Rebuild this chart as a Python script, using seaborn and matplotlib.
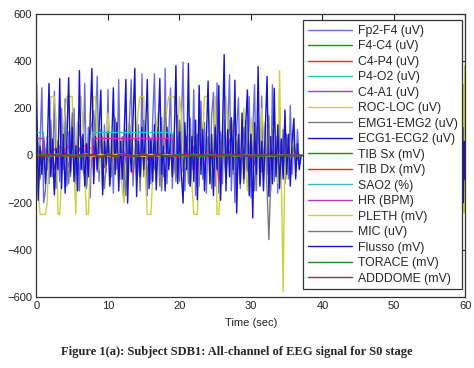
import numpy as np
import pandas as pd
import matplotlib
matplotlib.use("Agg")
import matplotlib.pyplot as plt
import seaborn as sns

# ---------------- data ----------------
labels = ["Fp2-F4 (uV)", "F4-C4 (uV)", "C4-P4 (uV)", "P4-O2 (uV)", "C4-A1 (uV)",
          "ROC-LOC (uV)", "EMG1-EMG2 (uV)", "ECG1-ECG2 (uV)", "TIB Sx (mV)",
          "TIB Dx (mV)", "SAO2 (%)", "HR (BPM)", "PLETH (mV)", "MIC (uV)",
          "Flusso (mV)", "TORACE (mV)", "ADDDOME (mV)"]

# sample times (s) of the visible part: 0..37 s every 0.25 s, plus right edge 59.4..60 s
t_main = np.arange(0, 37.001, 0.25)
t_half = np.arange(0, 37.001, 0.5)
t_sec = np.arange(0, 37.001, 1.0)
t_edge = np.arange(59.4, 60.001, 0.1)

fp2_f4 = [120, -160, 60, 287, -200, -150, 80, -120, 150, -90, 272, -140, 60, -110, 200, -60,
          240, -130, 100, -90, 50, 200, -120, 140, -150, 80, -60, 305, -140, 120, -180, 60,
          -90, 140, 336, -110, 80, -150, 130, -70, 280, -120, 90, -160, 140, -60, 322, -100,
          60, -180, 110, -90, 150, 322, -130, 70, -110, 130, -150, 347, -90, 120, -170, 80,
          -120, 150, 347, -110, 60, -130, 160, -90, 369, -120, 80, 287, -140, 100, -90, 170,
          -110, 120, 396, -150, 80, -120, 160, -60, 280, -170, 90, -130, 230, -100, 140, -160,
          60, -110, 170, 268, -130, 308, -160, 100, -120, 150, -90, 120, 342, -150, 90, -200,
          120, 244, -140, 80, -120, 150, -60, 250, -180, 110, 300, -150, 90, -120, 252, -100,
          140, -80, 170, -150, 300, -110, 80, -160, 150, -90, 110, -120, 70, -100, 212, -80,
          90, -60, 110, -40, 0]
fp2_f4_edge = [-100, 250, -240, 200, -150, 220, -60]

ecg = [308, -190, 40, -80, 60, -120, 20, 305, -90, 70, -167, 30, -60, 326, -140, 90,
       -160, 60, 330, -70, 120, -110, 40, -150, 360, -60, 90, -130, 50, -90, 150, 369,
       -120, 80, -60, 110, 277, -167, 60, -40, 100, -130, 30, 287, -80, 140, -150, 60,
       -100, 80, 322, -202, 90, -70, 150, 369, -174, 60, -90, 120, -60, 100, 322, -140,
       70, -110, 130, -146, 90, 326, -80, 40, -150, 120, -60, 90, -90, 60, 381, -120,
       100, -70, -202, 140, -60, 390, -130, 80, -110, 150, -188, 297, -80, 110, -150, 60,
       315, -120, 90, -170, 120, -60, 297, -190, 80, 428, -150, 110, -90, 160, -60, 319,
       -244, 90, -120, 180, -100, 120, 278, -170, 90, -265, 140, -80, 377, -130, 60, -150,
       110, 335, -174, 80, -120, 285, -90, 130, -140, 70, -100, 193, -80, 90, -130, 60,
       157, -100, 50, -60, 0]
ecg_edge = [30, -150, 120, -200, 60, -100, 40]

roc_loc = [100, -150, -250, -250, -250, -250, -200, 50, 250, 250, 250, 150, -250, -250, -100, 100,
           180, 250, 250, 250, 250, -50, -250, 100, 250, 250, 120, -100, -250, -250, -60, 80,
           250, 250, 40, -60, 0, 80, -40, 20, 180, 60, -80, 30, -40, 100, 40, -60,
           -150, -200, -60, 50, 130, 40, -30, 60, 100, 200, 250, 250, 250, -100, -250, -250,
           -250, -100, 50, 120, 180, 60, -40, 20, 120, 200, 250, 250, 250, 250, 150, 80,
           250, 180, 30, -50, 20, 90, -30, -120, -250, -250, -250, 0, 150, 80, 250, 250,
           250, 100, -80, 20, 250, -250, -250, -100, 50, 250, 250, 100, -40, 60, 150, -30,
           80, 20, -60, 100, 200, -50, -150, 40, 160, 60, -20, 120, 40, -80, 200, 100,
           -20, 130, 60, -40, 90, 150, 40, -120, 360, -100, -576, 30, -100, 60, -30, 80,
           20, -40, 40, 0, 0]
roc_loc_edge = [-240, 390, -100, 300, -244, 380, 0]

emg = [150, -100, 80, -60, 120, -150, 60, -40, 100, -120, 180, -80, 130, -60, -130, 90,
       190, -70, 110, -140, 60, -90, 160, -40, 80, -170, 140, -60, 70, -120, 150, -90,
       60, -60, 120, -150, 200, -40, 90, -110, 150, -70, 60, -130, 110, -60, 170, -90,
       80, -140, 130, -50, 90, -100, 150, -80, 60, -120, 120, -60, 90, -150, 160, -70,
       60, -357, 110, -80, 70, -60, 90, -40, 40, -20, 0]

c4_a1 = [30, -40, 50, -20, 40, -60, 60, -30, 20, -50, 70, -40, 30, -20, 50, -70,
         40, -30, 60, -50, 30, -40, 20, -60, 50, -30, 40, -80, 60, -50, 30, -20,
         40, -60, 50, -30, 70, -40, 30, -90, 60, -40, 50, -30, 40, -130, 60, -50,
         30, -40, 50, -110, 40, -60, 70, -30, 40, -50, 30, -70, 50, -40, 30, -60,
         40, -30, 20, -50, 30, -20, 40, -30, 20, -10, 0]
c4_p4 = [0, 20, 10, 40, 25, 50, 30, 45, 20, 10, 15, 5, 10, 0, 5, -5, 0, 10, 5, 0,
         5, -5, 0, 5, -5, 0, 5, 0, -5, 0, 5, 0, -5, 5, 0, 0, 0, 0]
pleth = [2, -4, 5, -2, 4, -5, 2, 6, -4, 5, -2, 4, 6, -5, 2, -4, 5, -2, 4, 0,
         -5, 2, 4, -2, 5, -4, 2, 0, -2, 4, -4, 2, 0, -2, 2, 0, 0, 0]
small_a = [0, 5, -5, 8, -3, 4, -6, 5, 0, -4, 6, -5, 3, 0, -3, 5, -4, 2, 0, -2,
           4, -3, 5, -5, 3, 0, -2, 4, -3, 2, 0, -4, 3, -2, 1, 0, 0, 0]
small_b = [0, -4, 6, -3, 5, -5, 2, 0, 4, -6, 3, -2, 5, -4, 0, 3, -3, 4, -2, 0,
           -3, 5, -4, 2, 0, -3, 4, -2, 3, 0, -4, 2, 0, 3, -1, 0, 0, 0]

sao2_t = [0, 0.9, 0.9, 7.7, 7.7, 18.8, 18.8, 37]
sao2_v = [98, 98, 0, 0, 98, 98, 0, 0]
hr_t = [0, 0.9, 0.9, 7.8, 7.8, 18.9, 18.9, 37]
hr_v = [75, 75, 0, 0, 75, 75, 0, 0]

# ---------------- style ----------------
sns.set_theme(style="white")
plt.rcParams["font.family"] = ["Liberation Sans", "DejaVu Sans"]

B = "#6b6be8"; BD = "#1414d2"; G = "#1e8a1e"; R = "#e8282c"; C = "#30c0c0"
M = "#c030c0"; Y = "#cfcf3c"; K = "#7a7a7a"

fig = plt.figure(figsize=(4.74, 3.68), dpi=100)
ax = fig.add_axes([0.077, 0.193, 0.905, 0.769])


def draw(t, v, color, label, lw=0.9, alpha=1.0):
    df = pd.DataFrame({"t": np.asarray(t, float), "v": np.asarray(v, float)})
    sns.lineplot(data=df, x="t", y="v", color=color, lw=lw, alpha=alpha,
                 sort=False, estimator=None, label=label, ax=ax)


draw(np.r_[t_main, t_edge], fp2_f4 + fp2_f4_edge, B, labels[0], alpha=0.9)
draw(t_sec, small_a, G, labels[1])
draw(t_sec, c4_p4, R, labels[2])
draw(t_sec, small_b, C, labels[3])
draw(t_half, c4_a1, M, labels[4], lw=0.8)
draw(np.r_[t_main, t_edge], roc_loc + roc_loc_edge, Y, labels[5])
draw(t_half, emg, K, labels[6])
draw(np.r_[t_main, t_edge], ecg + ecg_edge, BD, labels[7], lw=0.8)
draw(t_sec, small_b, G, labels[8])
draw(t_sec, small_a, R, labels[9])
draw(sao2_t, sao2_v, C, labels[10])
draw(hr_t, hr_v, M, labels[11])
draw(t_sec, pleth, Y, labels[12])
draw(t_sec, small_a, K, labels[13])
draw(t_sec, small_b, BD, labels[14])
draw(t_sec, small_a, G, labels[15])
draw(t_sec, small_b, "#b0204a", labels[16])

ax.set_xlim(0, 60)
ax.set_ylim(-600, 600)
ax.set_xticks(range(0, 61, 10))
ax.set_yticks(range(-600, 601, 200))
ax.tick_params(direction="in", length=4, width=0.8, labelsize=8, colors="#222222",
               top=True, right=True, pad=3)
for s in ax.spines.values():
    s.set_color("#333333")
    s.set_linewidth(0.9)
ax.set_xlabel("Time (sec)", fontsize=8, labelpad=5, color="#222222")
ax.set_ylabel("")

handles, labs = ax.get_legend_handles_labels()
for h in handles:
    h.set_alpha(1)
    h.set_linewidth(1.0)
leg = ax.legend(handles, labs, loc="upper right", bbox_to_anchor=(0.993, 0.979),
                borderaxespad=0, fontsize=8.8, frameon=True, fancybox=False,
                framealpha=1, edgecolor="#333333", handlelength=3.6,
                handletextpad=0.5, labelspacing=0.285, borderpad=0.4)
leg.get_frame().set_linewidth(0.9)

fig.text(0.5, 0.043, "Figure 1(a): Subject SDB1: All-channel of EEG signal for S0 stage",
         ha="center", va="center", fontsize=9, fontweight="bold",
         family=["Liberation Serif", "DejaVu Serif"])

fig.savefig("out.png", dpi=100)
